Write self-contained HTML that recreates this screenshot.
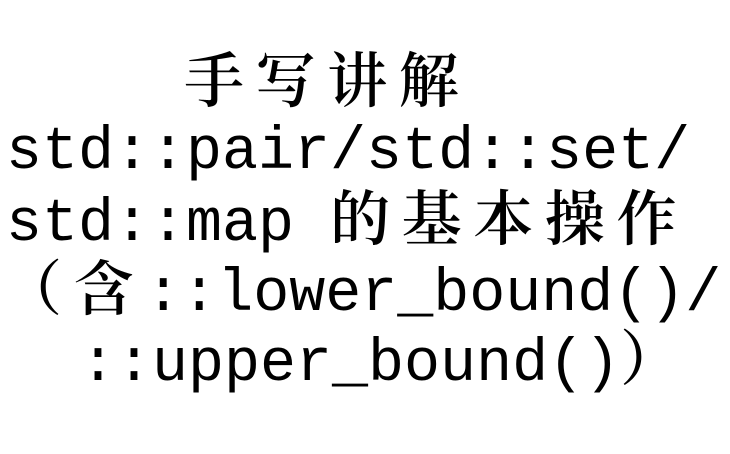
<!DOCTYPE html>
<html><head><meta charset="utf-8"><style>
html,body{margin:0;padding:0;background:#fff;width:730px;height:454px;overflow:hidden;position:relative}
.l{position:absolute;white-space:pre;font-family:"Liberation Mono","Noto Serif CJK SC",monospace;font-size:60px;line-height:70px;color:#000}
.c{font-family:"Noto Serif CJK SC","Noto Sans CJK SC",serif;letter-spacing:11.6px;font-weight:600}
</style></head><body>
<div class="l" style="left:184px;top:42px"><span class="c">手写讲解</span></div>
<div class="l" style="left:6px;top:118px">std::pair/std::set/</div>
<div class="l" style="left:6px;top:180px">std::map <span class="c">的基本操作</span></div>
<div class="l" style="left:2px;top:250px"><span class="c">（含</span>::lower_bound()/</div>
<div class="l" style="left:80px;top:320px">::upper_bound()<span class="c">）</span></div>
</body></html>
